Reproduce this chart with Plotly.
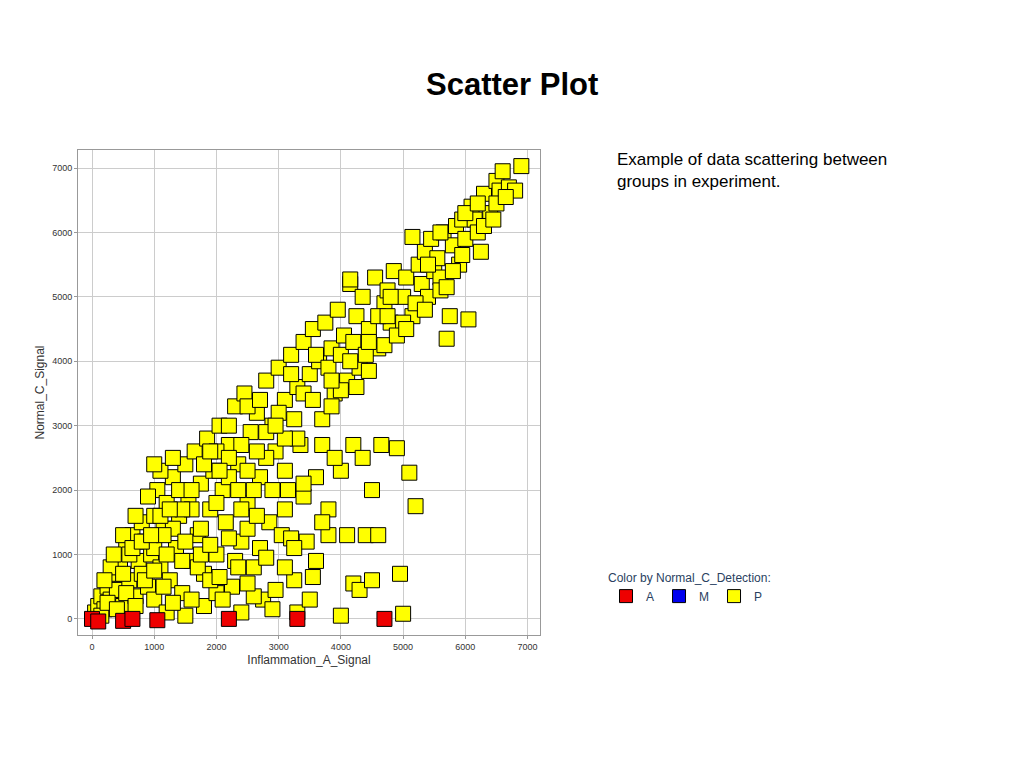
import plotly.graph_objects as go

# yellow (P) points
p_x = [50,100,150,200,250,300,350,400,450,500,550,600,650,700,750,800,850,900,950,1000,1000,1050,1100,1150,1200,1250,1300,1350,1400,1450,
       1500,1550,1600,1650,1700,1750,1800,1850,1900,1950,2000,2050,2100,2150,2200,2250,2300,2350,2400,2450,2500,2550,2600,2650,2700,2750,
       2800,2850,2900,2950,3000,3050,3100,3150,3200,3250,3300,3350,3400,3450,3500,3550,3600,3650,3700,3750,3800,3850,3900,3950,4000,4050,
       4100,4150,4200,4250,4300,4350,4400,4450,4500,4550,4600,4650,4700,4750,4800,4850,4900,4950,5000,5000,5050,5100,5150,5200,5250,5300,
       5350,5400,5450,5500,5550,5600,5650,5700,5750,5800,5850,5900,5950,6000,6050,6100,6150,6200,6300,6400,6500,6550,6600,6700,6800,6900,
       5150,5600,4150,
       1200,1500,1800,2000,2400,2600,2900,3100,3300,3500,3800,4000,4100,4300,4500,3200,3400,3600,3900,3700,4200,4350,4600,
       2000,2200,2500,2700,3000,3200,3400,3600,3800,4000,4200,4400,4600,4800,5000,5200,5400,5600,5800,6000,6200,6300,6500,
       1000,1200,1400,1600,1800,2000,2200,2400,600,800,300,500,900,700,1100,1300,1500,1700,1900,2100,2300,2500,2700,2900,3100,3300,
       2800,2600,2400,1000,
       150,250,400,550,700,850,1000,1150,1300,1450,1600,1750,1900,2050,2200,2350,2500,2650,2800,2950,3100,3250,3400,3550,3700,3850,
       4000,4250,4450,4700,4900,5050,5350,5700,5950,6250,6450,6650,
       1300,1600,1900,2200,2500,2800,3100,1150,1450,1750,2050,2350,2650,2950,3250,3550,3850,4150,4450,4750,
       200,350,500,650,800,950,1100,1250]
p_y = [100,200,350,150,500,300,700,450,900,200,1100,600,1300,350,900,1500,1200,500,1000,1600,300,2000,800,1400,1800,600,2200,1100,1600,400,
       2400,1900,900,2600,1300,2100,700,2800,1700,2300,1000,3000,2000,1500,2700,500,3300,2400,1200,3500,1800,2900,800,3200,2200,300,
       3700,1500,3000,2600,3900,1300,3400,2000,4100,600,3600,2700,4300,1200,3800,4500,900,4000,2700,4600,1700,4200,3500,4800,2300,4400,
       3700,5200,550,4700,3900,5000,1300,4500,2000,5300,4200,2700,4900,5100,4600,5400,2650,700,80,5000,5300,2270,4700,1750,5500,5200,
       5700,5000,5900,5400,5600,5300,6000,4350,4700,5800,6100,5500,6200,5900,4650,6400,6200,6000,6600,6300,6800,6650,6950,6700,6650,7030,
       5930,6000,5270,
       100,50,200,400,100,350,150,800,100,300,1300,50,1300,450,600,1250,1900,2200,2500,1500,2700,2500,1300,
       2600,3000,3300,3400,3200,3800,3500,4100,3900,4100,4300,4100,4700,5000,4600,4900,5500,5100,5400,6300,6450,6100,6450,
       1100,1000,2000,1700,2400,1800,2200,2700,1000,700,800,1300,1900,1600,2300,1400,1200,800,600,300,900,1400,1100,2000,2300,2800,
       2500,2000,1700,2400,
       50,250,150,400,200,600,750,500,250,900,300,1000,1150,650,1250,800,550,1600,950,450,1700,1100,2100,650,3100,3300,
       3550,3600,3850,4250,4400,4500,4800,5150,5650,5700,6200,6550,
       2500,2000,2600,2500,2300,2900,2800,1300,1700,1400,2300,2000,2600,3000,3100,3400,3700,4000,4300,4700,
       600,1000,700,1100,1200,1300,1600,1700]

# red (A) points
a_x = [0, 100, 500, 650, 1050, 2200, 3300, 4700]
a_y = [0, -40, -30, 0, -20, 0, 0, 0]

fig = go.Figure()
fig.add_scatter(x=p_x, y=p_y, mode='markers', name='P', showlegend=False,
                marker=dict(symbol='square', size=15, color='#ffff00', line=dict(color='black', width=1)))
fig.add_scatter(x=a_x, y=a_y, mode='markers', name='A', showlegend=False,
                marker=dict(symbol='square', size=15, color='#ee0000', line=dict(color='black', width=1)))
# legend entries
for nm, c in [('A', '#ee0000'), ('M', '#0000ee'), ('P', '#ffff00')]:
    fig.add_scatter(x=[None], y=[None], mode='markers', name=nm,
                    marker=dict(symbol='square', size=13, color=c, line=dict(color='black', width=1)))

ax = dict(showgrid=True, gridcolor='#cccccc', zeroline=False, showline=True, linecolor='#999999', mirror=True,
          tickfont=dict(size=9, family='Arial', color='#333'), ticks='outside', ticklen=3, tickcolor='#999')
fig.update_xaxes(ax, range=[-225, 7200], tickvals=[0,1000,2000,3000,4000,5000,6000,7000], domain=[70/1024, 532/1024],
                 title=dict(text='Inflammation_A_Signal', font=dict(size=12, family='Arial', color='#333'), standoff=4))
fig.update_yaxes(ax, range=[-250, 7280], tickvals=[0,1000,2000,3000,4000,5000,6000,7000], domain=[1-627/768, 1-142/768],
                 title=dict(text='Normal_C_Signal', font=dict(size=12, family='Arial', color='#333'), standoff=4))

fig.add_annotation(text='<b>Scatter Plot</b>', x=504/1024, y=1-57/768, xref='paper', yref='paper', showarrow=False,
                   font=dict(size=31, family='Arial', color='black'))
fig.add_annotation(text='Example of data scattering between<br>groups in experiment.', x=607/1024, y=1-140/768,
                   xref='paper', yref='paper', xanchor='left', yanchor='top', align='left', showarrow=False,
                   font=dict(size=17, family='Arial', color='black'))

fig.update_layout(width=1024, height=768, margin=dict(l=0, r=0, t=0, b=0), plot_bgcolor='white', paper_bgcolor='white',
                  legend=dict(x=598/1024, y=1-558/768, xanchor='left', yanchor='top', orientation='h',
                              title=dict(text='Color by Normal_C_Detection:', side='top', font=dict(size=12, family='Arial')),
                              font=dict(size=12, family='Arial'), itemwidth=30, tracegroupgap=0))
fig.write_html("out.html")
